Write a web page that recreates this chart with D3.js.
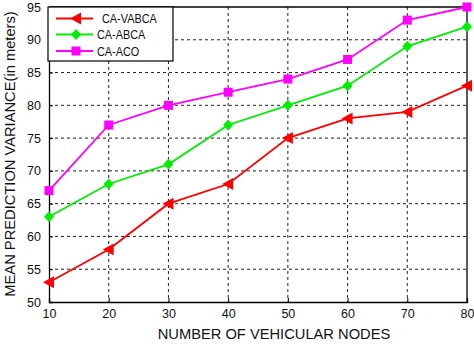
<!DOCTYPE html>
<html>
<head>
<meta charset="utf-8">
<script src="https://cdn.jsdelivr.net/npm/d3@7/dist/d3.min.js"></script>
<style>
  html, body { margin: 0; padding: 0; background: #fff; }
  svg { display: block; font-family: "Liberation Sans", Arial, sans-serif; }
</style>
</head>
<body>
<svg id="chart" width="474" height="344"></svg>
<script>
// Number of vehicular nodes
const nodes = [10, 20, 30, 40, 50, 60, 70, 80];
// Mean prediction variance (in meters) per method
const caVabca = [53, 58, 65, 68, 75, 78, 79, 83];
const caAbca  = [63, 68, 71, 77, 80, 83, 89, 92];
const caAco   = [67, 77, 80, 82, 84, 87, 93, 95];
const seriesNames = ["CA-VABCA", "CA-ABCA", "CA-ACO"];
const yTicks = [50, 55, 60, 65, 70, 75, 80, 85, 90, 95];
const xTicks = [10, 20, 30, 40, 50, 60, 70, 80];

const series = [
  { name: seriesNames[0], values: caVabca, color: "#ff0000", marker: "triangle" },
  { name: seriesNames[1], values: caAbca,  color: "#00ee00", marker: "diamond" },
  { name: seriesNames[2], values: caAco,   color: "#ff00ff", marker: "square" }
];

const svg = d3.select("#chart");
const L = 49, R = 467, T = 7, B = 302;

const x = d3.scaleLinear().domain([10, 80]).range([L, R]);
const y = d3.scaleLinear().domain([50, 95]).range([B, T]);

// Dashed grid
const grid = svg.append("g");
grid.selectAll("line.gx").data(xTicks.slice(1, -1)).enter().append("line")
  .attr("x1", d => x(d)).attr("x2", d => x(d))
  .attr("y1", T).attr("y2", B)
  .attr("stroke", "#222").attr("stroke-width", 1).attr("stroke-dasharray", "3,3");
grid.selectAll("line.gy").data(yTicks.slice(1, -1)).enter().append("line")
  .attr("x1", L).attr("x2", R)
  .attr("y1", d => y(d)).attr("y2", d => y(d))
  .attr("stroke", "#222").attr("stroke-width", 1).attr("stroke-dasharray", "3,3");

// Axes (ticks point inward)
const xAxis = svg.append("g").attr("transform", `translate(0,${B})`)
  .call(d3.axisBottom(x).tickValues(xTicks).tickSize(-4).tickPadding(7).tickFormat(d3.format("d")));
const yAxis = svg.append("g").attr("transform", `translate(${L},0)`)
  .call(d3.axisLeft(y).tickValues(yTicks).tickSize(-4).tickPadding(8).tickFormat(d3.format("d")));
[xAxis, yAxis].forEach(a => {
  a.select(".domain").attr("stroke", "#000").attr("stroke-width", 1.3);
  a.selectAll(".tick line").attr("stroke", "#000");
  a.selectAll(".tick text").attr("font-size", 12.5).attr("fill", "#111")
    .attr("font-family", "Liberation Sans, Arial, sans-serif");
});

// Top and right frame
svg.append("line").attr("x1", L).attr("x2", R).attr("y1", T).attr("y2", T)
  .attr("stroke", "#000").attr("stroke-width", 1.3);
svg.append("line").attr("x1", R).attr("x2", R).attr("y1", T).attr("y2", B)
  .attr("stroke", "#000").attr("stroke-width", 1.3);

function drawMarker(g, type, cx, cy, color) {
  if (type === "square") {
    g.append("rect").attr("x", cx - 4.5).attr("y", cy - 4.5).attr("width", 9).attr("height", 9)
      .attr("fill", color);
  } else if (type === "diamond") {
    g.append("path").attr("d", `M${cx},${cy - 5.5}L${cx + 5},${cy}L${cx},${cy + 5.5}L${cx - 5},${cy}Z`)
      .attr("fill", color);
  } else {
    g.append("path").attr("d", `M${cx - 6},${cy}L${cx + 5},${cy - 6}L${cx + 5},${cy + 6}Z`)
      .attr("fill", color);
  }
}

const line = d3.line().x((d, i) => x(nodes[i])).y(d => y(d));
series.forEach(s => {
  const g = svg.append("g");
  g.append("path").datum(s.values).attr("d", line)
    .attr("fill", "none").attr("stroke", s.color).attr("stroke-width", 1.8);
  s.values.forEach((v, i) => drawMarker(g, s.marker, x(nodes[i]), y(v), s.color));
});

// Legend
const lg = svg.append("g");
lg.append("rect").attr("x", 48).attr("y", 7).attr("width", 125).attr("height", 54)
  .attr("fill", "#fff").attr("stroke", "#000").attr("stroke-width", 1.2);
const legendY = [18.5, 34.5, 51];
series.forEach((s, i) => {
  lg.append("line").attr("x1", 56).attr("x2", 93).attr("y1", legendY[i]).attr("y2", legendY[i])
    .attr("stroke", s.color).attr("stroke-width", 1.8);
  drawMarker(lg, s.marker, 76, legendY[i], s.color);
  const t = lg.append("text").attr("x", i === 0 ? 102 : 97).attr("y", legendY[i] + 4.5)
    .attr("font-size", 12.5).attr("fill", "#111").text(s.name);
  // slightly condensed legend lettering
  const w = t.node().getComputedTextLength();
  t.attr("textLength", w * 0.87).attr("lengthAdjust", "spacingAndGlyphs");
});

// Axis titles
svg.append("text").attr("x", 274).attr("y", 339).attr("text-anchor", "middle")
  .attr("font-size", 14.7).attr("fill", "#111").text("NUMBER OF VEHICULAR NODES");
svg.append("text").attr("transform", "translate(15,154) rotate(-90)").attr("text-anchor", "middle")
  .attr("font-size", 14.7).attr("fill", "#111").text("MEAN PREDICTION VARIANCE(in meters)");
</script>
</body>
</html>
